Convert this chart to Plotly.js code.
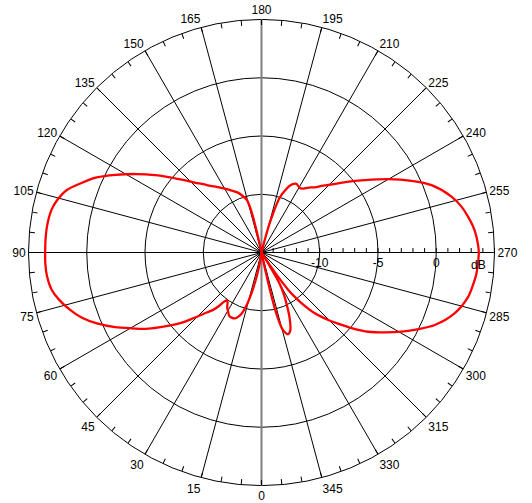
<!DOCTYPE html>
<html><head><meta charset="utf-8">
<script src="https://cdn.plot.ly/plotly-3.0.1.min.js"></script>
<style>html,body{margin:0;padding:0;background:#fff}</style>
</head><body><div id="chart" style="width:532px;height:503px"></div>
<script>
// Antenna pattern: angle (deg, 0 at bottom, clockwise) and gain (dB)
const angleDeg = [0, 8, 9.5, 10.5, 12, 14, 16, 18, 20, 22, 24.6, 27, 29.3, 32, 34.5, 36, 37.5, 38.6, 40, 42.9, 46, 48.6, 52.9, 56, 60, 63, 66.7, 70, 73.3, 76.9, 80, 83.6, 87, 90,
  93, 96.8, 101.4, 104.4, 107.8, 111, 114.5, 118, 122.2, 126, 129.4, 133.8, 136.5, 139.6, 142.5, 145.7, 149.5, 153.3, 157.8, 161, 164.3, 165.8, 166.5, 167, 167.5, 168.3, 180,
  193.5, 194.5, 195.5, 196.7, 198.4, 200.8, 202.5, 204.5, 206.5, 208.5, 210.5, 212.5, 214.5, 217, 219.5, 222, 224.7, 228, 231.5, 235, 239.9, 244.5, 248.4, 253.6, 257, 260.2, 263, 265.8, 270,
  275.5, 279, 282.1, 287.4, 292.7, 296, 299.5, 303, 306.6, 309.5, 312.1, 315.3, 318.7, 321.6, 323.2, 324.4, 325.5, 326.5, 327.5,
  328.3, 329.2, 330.1, 332, 334.2, 336, 337.5, 339, 340.1, 341.5, 342.8, 344, 345, 346.3, 347, 347.5, 348, 348.5, 360];
const gainDb = [-15, -15, -14, -13.5, -12.5, -11.3, -10.2, -9.5, -9.12, -8.9, -8.85, -8.9, -9.15, -9.45, -9.85, -9.95, -9.6, -9.1, -8.6, -7.88, -6.9, -5.9, -4.44, -3.3, -2.0, -0.9, 0.39, 1.4, 2.15, 2.85, 3.3, 3.52, 3.58, 3.57,
  3.57, 3.55, 3.4, 3.1, 2.55, 1.6, 0.54, -0.8, -2.36, -3.7, -4.84, -6.1, -6.75, -7.3, -7.8, -8.17, -8.6, -9.0, -9.4, -9.8, -10.3, -11.0, -11.7, -12.6, -13.7, -15, -15,
  -15, -13.8, -12.5, -11.3, -10.0, -9.3, -8.85, -8.55, -8.4, -8.45, -8.55, -8.5, -8.3, -8.0, -7.75, -7.3, -6.85, -6.13, -5.2, -4.16, -2.43, -0.72, 0.70, 2.0, 2.6, 3.0, 3.3, 3.5, 3.65,
  3.54, 3.35, 3.14, 2.39, 1.12, 0.0, -1.19, -2.4, -3.59, -4.7, -5.73, -6.85, -8.05, -9.44, -10.3, -11.05, -12.3, -13.6, -15,
  -13.8, -12.8, -11.8, -10.9, -10.0, -9.2, -8.6, -8.05, -7.81, -7.65, -7.68, -7.95, -8.3, -9.5, -11.0, -12.5, -14.0, -15, -15];

const angleTickVals = [0, 15, 30, 45, 60, 75, 90, 105, 120, 135, 150, 165, 180, 195, 210, 225, 240, 255, 270, 285, 300, 315, 330, 345];
const angleTickText = ['0', '15', '30', '45', '60', '75', '90', '105', '120', '135', '150', '165', '180', '195', '210', '225', '240', '255', '270', '285', '300', '315', '330', '345'];
const axisLineAngles = [0, 180];
const radialRange = [-15, 5];
const radialTickVals = [-10, -5, 0];
const radialTickText = ['-10', '-5', '0'];
const unitLabel = 'dB';

const FONT = {family: 'Arial, "Liberation Sans", sans-serif', size: 12, color: '#000'};
const dom = {x: [0.05357, 0.92951], y: [0.03479, 0.96123]};

const hidden = (sp) => ({
  type: 'scatterpolar', mode: 'lines', theta: angleDeg, r: gainDb, subplot: sp,
  line: {color: 'rgba(0,0,0,0)', width: 0}, hoverinfo: 'skip', showlegend: false
});

const traces = [
  hidden('polar'),
  hidden('polar2'),
  {
    type: 'scatterpolar', mode: 'lines', theta: angleDeg, r: gainDb, subplot: 'polar3',
    line: {color: '#ff0000', width: 2.3, shape: 'spline', smoothing: 0.8}, showlegend: false
  }
];

const baseAng = {rotation: 270, direction: 'clockwise', thetaunit: 'degrees'};

const layout = {
  width: 532, height: 503,
  margin: {l: 0, r: 0, t: 0, b: 0},
  paper_bgcolor: '#fff',
  showlegend: false,
  font: FONT,
  polar: {
    domain: dom, bgcolor: '#fff',
    angularaxis: Object.assign({}, baseAng, {
      tickmode: 'array', tickvals: angleTickVals, ticktext: angleTickText,
      ticks: '', showgrid: true, gridcolor: '#000', gridwidth: 1,
      showline: true, linecolor: '#000', linewidth: 1,
      tickfont: FONT
    }),
    radialaxis: {
      range: radialRange, angle: 0, side: 'clockwise',
      tickmode: 'array', tickvals: radialTickVals, ticktext: radialTickText,
      ticks: '', showgrid: true, gridcolor: '#000', gridwidth: 1,
      showline: true, linecolor: '#000', linewidth: 1,
      tickfont: FONT, tickangle: 0
    }
  },
  polar2: {
    domain: dom, bgcolor: 'rgba(0,0,0,0)',
    angularaxis: Object.assign({}, baseAng, {
      tickmode: 'array', tickvals: axisLineAngles, showticklabels: false,
      ticks: '', showgrid: true, gridcolor: '#808080', gridwidth: 2,
      showline: false
    }),
    radialaxis: {
      range: radialRange, angle: 0, side: 'clockwise',
      tickmode: 'linear', tick0: -15, dtick: 1,
      ticks: 'inside', ticklen: 4, tickcolor: '#000', tickwidth: 1,
      showticklabels: false, showgrid: false, showline: false
    }
  },
  polar3: {
    domain: dom, bgcolor: 'rgba(0,0,0,0)',
    angularaxis: Object.assign({}, baseAng, {
      tickmode: 'linear', tick0: 0, dtick: 5,
      ticks: 'inside', ticklen: 5, tickcolor: '#000', tickwidth: 1,
      showticklabels: false, showgrid: false, showline: false
    }),
    radialaxis: {
      range: radialRange, angle: 0,
      showticklabels: false, showgrid: false, showline: false, ticks: ''
    }
  },
  annotations: [{
    text: unitLabel, xref: 'paper', yref: 'paper', x: 0.8998, y: 0.4732,
    xanchor: 'center', yanchor: 'middle', showarrow: false, font: FONT
  }]
};

Plotly.newPlot('chart', traces, layout, {staticPlot: true, displayModeBar: false});
</script>
</body></html>
